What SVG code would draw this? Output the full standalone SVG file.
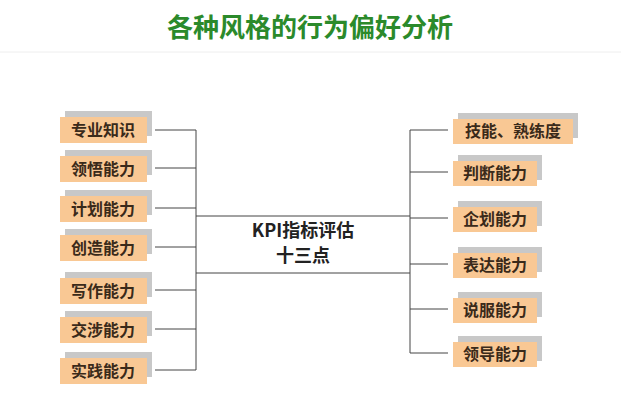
<svg xmlns="http://www.w3.org/2000/svg" width="621" height="403" viewBox="0 0 621 403">
<style>
.sh{fill:#c8c8c8}.bx{fill:#f9c894}
.t{font-family:"Noto Sans CJK SC",sans-serif;font-size:16px;font-weight:bold;fill:#3a2a1a}
.c{stroke:#444;stroke-width:1;fill:none}
</style>
<rect width="621" height="403" fill="#fff"/>
<text x="310" y="37" text-anchor="middle" font-family="Noto Sans CJK SC,sans-serif" font-weight="bold" font-size="26" fill="#2b8a2b">各种风格的行为偏好分析</text>
<line x1="0" y1="52" x2="621" y2="52" stroke="#eee"/>
<g id="connectors" class="c">
<path d="M155 130H196M155 168H196M155 208H196M155 247H196M155 290H196M155 329H196M155 370H196M196 130V370"/>
<path d="M196 216H410M196 273H410"/>
<path d="M410 130V353M410 130H448M410 172H448M410 218H448M410 264H448M410 309H448M410 353H448"/>
</g>
<g id="center"><text x="303" y="237" text-anchor="middle" font-family="Noto Sans CJK SC,sans-serif" font-size="18" font-weight="bold" fill="#222">KPI指标评估</text><text x="303" y="262" text-anchor="middle" font-family="Noto Sans CJK SC,sans-serif" font-size="18" font-weight="bold" fill="#222">十三点</text></g>
<g id="l1"><rect class="sh" x="65" y="111" width="87" height="25"/><rect class="bx" x="60" y="117" width="87" height="26"/><text class="t" x="103" y="136" text-anchor="middle">专业知识</text></g>
<g id="l2"><rect class="sh" x="65" y="150" width="87" height="25"/><rect class="bx" x="60" y="156" width="87" height="26"/><text class="t" x="103" y="175" text-anchor="middle">领悟能力</text></g>
<g id="l3"><rect class="sh" x="65" y="190" width="87" height="25"/><rect class="bx" x="60" y="196" width="87" height="26"/><text class="t" x="103" y="215" text-anchor="middle">计划能力</text></g>
<g id="l4"><rect class="sh" x="65" y="229" width="87" height="25"/><rect class="bx" x="60" y="235" width="87" height="26"/><text class="t" x="103" y="254" text-anchor="middle">创造能力</text></g>
<g id="l5"><rect class="sh" x="65" y="272" width="87" height="25"/><rect class="bx" x="60" y="278" width="87" height="26"/><text class="t" x="103" y="297" text-anchor="middle">写作能力</text></g>
<g id="l6"><rect class="sh" x="65" y="311" width="87" height="25"/><rect class="bx" x="60" y="317" width="87" height="26"/><text class="t" x="103" y="336" text-anchor="middle">交涉能力</text></g>
<g id="l7"><rect class="sh" x="65" y="352" width="87" height="25"/><rect class="bx" x="60" y="358" width="87" height="26"/><text class="t" x="103" y="377" text-anchor="middle">实践能力</text></g>
<g id="r1"><rect class="sh" x="458" y="113" width="120" height="25"/><rect class="bx" x="453" y="119" width="120" height="25"/><text class="t" x="513" y="137" text-anchor="middle">技能、熟练度</text></g>
<g id="r2"><rect class="sh" x="458" y="155" width="84" height="25"/><rect class="bx" x="453" y="161" width="84" height="25"/><text class="t" x="495" y="179" text-anchor="middle">判断能力</text></g>
<g id="r3"><rect class="sh" x="458" y="201" width="84" height="25"/><rect class="bx" x="453" y="207" width="84" height="25"/><text class="t" x="495" y="225" text-anchor="middle">企划能力</text></g>
<g id="r4"><rect class="sh" x="458" y="247" width="84" height="25"/><rect class="bx" x="453" y="253" width="84" height="25"/><text class="t" x="495" y="271" text-anchor="middle">表达能力</text></g>
<g id="r5"><rect class="sh" x="458" y="292" width="84" height="25"/><rect class="bx" x="453" y="298" width="84" height="25"/><text class="t" x="495" y="316" text-anchor="middle">说服能力</text></g>
<g id="r6"><rect class="sh" x="458" y="336" width="84" height="25"/><rect class="bx" x="453" y="342" width="84" height="25"/><text class="t" x="495" y="360" text-anchor="middle">领导能力</text></g>
</svg>
